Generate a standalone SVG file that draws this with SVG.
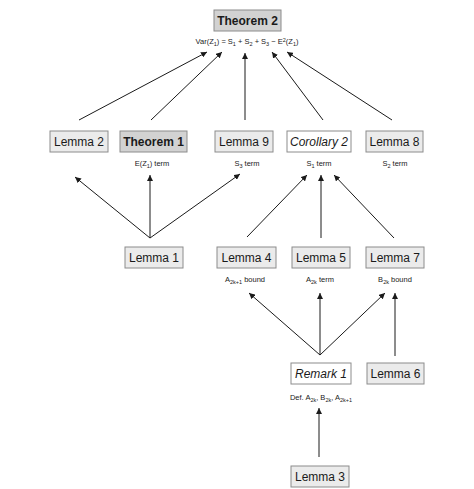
<svg xmlns="http://www.w3.org/2000/svg" width="474" height="489" viewBox="0 0 474 489">
<style>
.box{stroke:#8c8c8c;stroke-width:1}
.lem{fill:#ebebeb}
.thm{fill:#d2d2d2}
.wht{fill:#ffffff}
.t{font-family:"Liberation Sans",Arial,sans-serif;font-size:12px;fill:#1a1a1a;text-anchor:middle}
.b{font-weight:bold}
.i{font-style:italic}
.s{font-family:"Liberation Sans",Arial,sans-serif;font-size:7.5px;fill:#1a1a1a;text-anchor:middle}
.sub{font-size:5.5px}
.c{stroke:#1a1a1a;stroke-width:1;fill:none;marker-end:url(#ah)}
</style>
<defs>
<marker id="ah" markerUnits="userSpaceOnUse" markerWidth="7" markerHeight="6" refX="6" refY="3" orient="auto">
<path d="M0,0 L6,3 L0,6 z" fill="#1a1a1a"/>
</marker>
</defs>
<rect width="474" height="489" fill="#ffffff"/>
<g id="connectors">
<line class="c" x1="79" y1="120" x2="207" y2="52"/>
<line class="c" x1="151" y1="120" x2="222" y2="52"/>
<line class="c" x1="245" y1="120" x2="245" y2="53"/>
<line class="c" x1="323" y1="120" x2="272" y2="52"/>
<line class="c" x1="392" y1="120" x2="287" y2="52"/>
<line class="c" x1="150" y1="238" x2="75" y2="177"/>
<line class="c" x1="150" y1="238" x2="150" y2="175"/>
<line class="c" x1="150" y1="238" x2="240" y2="174"/>
<line class="c" x1="247" y1="237" x2="307" y2="175"/>
<line class="c" x1="321" y1="238" x2="321" y2="175"/>
<line class="c" x1="394" y1="238" x2="334" y2="175"/>
<line class="c" x1="320" y1="355" x2="249" y2="293"/>
<line class="c" x1="320" y1="355" x2="320" y2="293"/>
<line class="c" x1="320" y1="355" x2="385" y2="293"/>
<line class="c" x1="395" y1="356" x2="395" y2="293"/>
<line class="c" x1="319" y1="457" x2="319" y2="408"/>
</g>
<g id="theorem2">
<rect class="box thm" x="214" y="10" width="67" height="21"/>
<text class="t b" x="247.5" y="25">Theorem 2</text>
<text class="s" x="247" y="44">Var(Z<tspan class="sub" dy="1.5">1</tspan><tspan dy="-1.5">) = S</tspan><tspan class="sub" dy="1.5">1</tspan><tspan dy="-1.5"> + S</tspan><tspan class="sub" dy="1.5">2</tspan><tspan dy="-1.5"> + S</tspan><tspan class="sub" dy="1.5">3</tspan><tspan dy="-1.5"> − E</tspan><tspan class="sub" dy="-2.5">2</tspan><tspan dy="2.5">(Z</tspan><tspan class="sub" dy="1.5">1</tspan><tspan dy="-1.5">)</tspan></text>
</g>
<g id="lemma2">
<rect class="box lem" x="50" y="131" width="58" height="21"/>
<text class="t" x="79" y="146">Lemma 2</text>
</g>
<g id="theorem1">
<rect class="box thm" x="120" y="131" width="67" height="21"/>
<text class="t b" x="153.5" y="146">Theorem 1</text>
<text class="s" x="152" y="166">E(Z<tspan class="sub" dy="1.5">1</tspan><tspan dy="-1.5">) term</tspan></text>
</g>
<g id="lemma9">
<rect class="box lem" x="215" y="131" width="58" height="21"/>
<text class="t" x="244" y="146">Lemma 9</text>
<text class="s" x="247" y="166">S<tspan class="sub" dy="1.5">3</tspan><tspan dy="-1.5"> term</tspan></text>
</g>
<g id="corollary2">
<rect class="box wht" x="287" y="131" width="64" height="21"/>
<text class="t i" x="319" y="146">Corollary 2</text>
<text class="s" x="319" y="166">S<tspan class="sub" dy="1.5">1</tspan><tspan dy="-1.5"> term</tspan></text>
</g>
<g id="lemma8">
<rect class="box lem" x="366" y="131" width="57" height="21"/>
<text class="t" x="394.5" y="146">Lemma 8</text>
<text class="s" x="395" y="166">S<tspan class="sub" dy="1.5">2</tspan><tspan dy="-1.5"> term</tspan></text>
</g>
<g id="lemma1">
<rect class="box lem" x="125" y="247" width="58" height="21"/>
<text class="t" x="154" y="262">Lemma 1</text>
</g>
<g id="lemma4">
<rect class="box lem" x="217" y="247" width="59" height="21"/>
<text class="t" x="246.5" y="262">Lemma 4</text>
<text class="s" x="245" y="282">A<tspan class="sub" dy="1.5">2k+1</tspan><tspan dy="-1.5"> bound</tspan></text>
</g>
<g id="lemma5">
<rect class="box lem" x="292" y="247" width="58" height="21"/>
<text class="t" x="321" y="262">Lemma 5</text>
<text class="s" x="320" y="282">A<tspan class="sub" dy="1.5">2k</tspan><tspan dy="-1.5"> term</tspan></text>
</g>
<g id="lemma7">
<rect class="box lem" x="366" y="247" width="58" height="21"/>
<text class="t" x="395" y="262">Lemma 7</text>
<text class="s" x="395" y="282">B<tspan class="sub" dy="1.5">2k</tspan><tspan dy="-1.5"> bound</tspan></text>
</g>
<g id="remark1">
<rect class="box wht" x="291" y="363" width="60" height="21"/>
<text class="t i" x="321" y="378">Remark 1</text>
<text class="s" x="321" y="400">Def. A<tspan class="sub" dy="1.5">2k</tspan><tspan dy="-1.5">, B</tspan><tspan class="sub" dy="1.5">2k</tspan><tspan dy="-1.5">, A</tspan><tspan class="sub" dy="1.5">2k+1</tspan></text>
</g>
<g id="lemma6">
<rect class="box lem" x="367" y="363" width="57" height="21"/>
<text class="t" x="395.5" y="378">Lemma 6</text>
</g>
<g id="lemma3">
<rect class="box lem" x="291" y="466" width="58" height="21"/>
<text class="t" x="320" y="481">Lemma 3</text>
</g>
</svg>
